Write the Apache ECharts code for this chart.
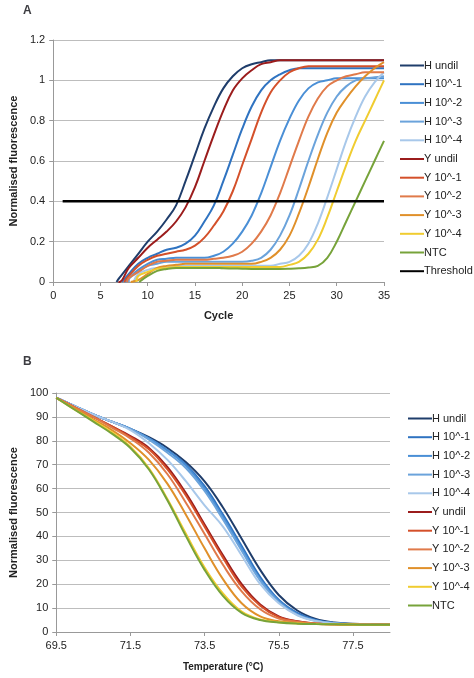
<!DOCTYPE html>
<html><head><meta charset="utf-8">
<script src="https://cdn.jsdelivr.net/npm/echarts@6/dist/echarts.min.js"></script>
<style>html,body{margin:0;padding:0;background:#fff}#c{width:474px;height:678px}</style>
</head><body><div id="c"></div>
<script>
const names = ['H undil','H 10^-1','H 10^-2','H 10^-3','H 10^-4','Y undil','Y 10^-1','Y 10^-2','Y 10^-3','Y 10^-4','NTC'];
const colors = ['#1f3d6b','#2f73c1','#4a8fd6','#6ba3db','#a8c8ea','#9b1c1c','#d4502a','#e07a4a','#e0902a','#f0cc30','#77a33a'];
// Panel A: start cycle (value 0) then values at integer cycles from ceil(start) up to 35
const ampStart = [6.7,7.3,7.6,8.0,8.5,6.9,7.5,7.8,8.2,8.8,9.1];
const ampValues = [
 [0.02,0.08,0.14,0.2,0.25,0.31,0.38,0.5,0.63,0.76,0.87,0.96,1.02,1.06,1.08,1.09,1.1,1.1,1.1,1.1,1.1,1.1,1.1,1.1,1.1,1.1,1.1,1.1,1.1],
 [0.04,0.09,0.12,0.14,0.16,0.17,0.19,0.23,0.3,0.38,0.5,0.63,0.76,0.87,0.95,1.0,1.03,1.05,1.06,1.06,1.06,1.06,1.06,1.06,1.06,1.06,1.06,1.06],
 [0.02,0.06,0.09,0.11,0.115,0.12,0.12,0.12,0.12,0.13,0.15,0.19,0.25,0.33,0.44,0.57,0.7,0.81,0.9,0.96,0.99,1.0,1.01,1.01,1.01,1.01,1.01,1.01],
 [0.01,0.05,0.08,0.09,0.1,0.1,0.1,0.1,0.1,0.1,0.1,0.1,0.1,0.105,0.12,0.16,0.23,0.33,0.46,0.6,0.73,0.84,0.92,0.97,1.0,1.01,1.015,1.02],
 [0.04,0.06,0.07,0.075,0.08,0.08,0.08,0.08,0.08,0.08,0.08,0.08,0.08,0.08,0.08,0.09,0.1,0.13,0.19,0.29,0.42,0.56,0.7,0.82,0.92,0.99,1.04],
 [0.0,0.07,0.12,0.17,0.21,0.25,0.3,0.37,0.47,0.6,0.73,0.85,0.95,1.01,1.05,1.08,1.09,1.1,1.1,1.1,1.1,1.1,1.1,1.1,1.1,1.1,1.1,1.1,1.1],
 [0.03,0.08,0.11,0.13,0.14,0.15,0.16,0.18,0.22,0.28,0.35,0.45,0.58,0.71,0.84,0.94,1.0,1.04,1.06,1.07,1.07,1.07,1.07,1.07,1.07,1.07,1.07,1.07],
 [0.02,0.05,0.08,0.1,0.105,0.11,0.11,0.11,0.11,0.115,0.12,0.13,0.15,0.19,0.25,0.33,0.44,0.57,0.7,0.82,0.91,0.97,1.0,1.02,1.03,1.04,1.04,1.04],
 [0.01,0.04,0.07,0.08,0.085,0.09,0.09,0.09,0.09,0.09,0.09,0.09,0.09,0.1,0.12,0.16,0.23,0.34,0.47,0.61,0.74,0.84,0.91,0.97,1.02,1.06,1.09],
 [0.03,0.05,0.065,0.07,0.075,0.075,0.075,0.075,0.075,0.075,0.075,0.075,0.075,0.075,0.075,0.075,0.085,0.1,0.14,0.21,0.32,0.45,0.58,0.7,0.8,0.9,1.0],
 [0.03,0.055,0.065,0.07,0.07,0.07,0.07,0.07,0.068,0.067,0.066,0.065,0.065,0.065,0.065,0.066,0.068,0.072,0.08,0.12,0.2,0.3,0.4,0.5,0.6,0.7]
];
const threshold = [[1,0.4],[35,0.4]];
// Panel B: temperatures and melt values
const temps = [69.5,70,70.5,71,71.5,72,72.5,73,73.5,74,74.5,75,75.5,76,76.5,77,77.5,78,78.5];
const meltValues = [
 [98,94.5,91,88,85,81.5,77,71,63,52,39,26,15.5,9,5.5,4,3.5,3.2,3],
 [98,94.5,91,88,85,81,76,70,61,49,36,23,13.5,8,5,3.8,3.3,3.1,3],
 [98,94.5,91,88,85,81,76,69.5,60,48,35,22,13,7.5,4.8,3.7,3.3,3.1,3],
 [98,94.5,91,88,85,80.5,75,68.5,59,47,34,21.5,12.5,7.2,4.7,3.7,3.3,3.1,3],
 [98,94.5,91,88,84.5,79,72,63,53,44,32,20,12,7,4.6,3.6,3.3,3.1,3],
 [98,94,90,86,82,77,69,58,45,32,20,11.5,6.5,4.5,3.6,3.2,3.1,3,3],
 [98,94,90,86,81.5,76.5,68,57,44,31,19,11,6.2,4.4,3.5,3.2,3.1,3,3],
 [98,94,90,85.5,81,75,66,54,41,28,17,9.5,5.6,4.2,3.5,3.2,3.1,3,3],
 [98,93.5,89,84.5,79,72,62,49,35,22,12,6.5,4.5,3.8,3.4,3.2,3.1,3,3],
 [98,93,88.5,83.5,77.5,68.5,55.5,41,27,16,8.5,5.2,4.1,3.6,3.3,3.2,3.1,3,3],
 [98,93,88,83,77,68,55,40,26,15,8,5,4,3.5,3.3,3.2,3.1,3,3]
];

const font = 'Liberation Sans, Arial, sans-serif';
const series = [];
names.forEach((n,i)=>{
  const d=[[ampStart[i],0]];
  const c0=Math.ceil(ampStart[i]);
  ampValues[i].forEach((v,k)=>d.push([c0+k,v]));
  series.push({name:n,type:'line',xAxisIndex:0,yAxisIndex:0,data:d,smooth:0.4,showSymbol:false,lineStyle:{width:2,color:colors[i]},itemStyle:{color:colors[i]},z:3+i});
});
series.push({name:'Threshold',type:'line',xAxisIndex:0,yAxisIndex:0,data:threshold,showSymbol:false,lineStyle:{width:2.5,color:'#000'},itemStyle:{color:'#000'},z:20});
names.forEach((n,i)=>{
  series.push({name:n,type:'line',xAxisIndex:1,yAxisIndex:1,data:temps.map((t,k)=>[t,meltValues[i][k]]),smooth:0.4,showSymbol:false,lineStyle:{width:2,color:colors[i]},itemStyle:{color:colors[i]},z:3+i});
});
const lbl = {color:'#222',fontSize:11,fontFamily:font};
const ax = {axisLine:{show:true,lineStyle:{color:'#999'}},axisTick:{show:true,length:4,lineStyle:{color:'#999'}},axisLabel:lbl,splitLine:{show:false}};
const ay = {axisLine:{show:true,lineStyle:{color:'#999'}},axisTick:{show:true,length:4,lineStyle:{color:'#999'}},axisLabel:lbl,splitLine:{show:true,lineStyle:{color:'#bdbdbd'}}};
const nameStyle = {fontWeight:'bold',fontSize:11,fontFamily:font,color:'#222'};
const legText = {fontSize:11,fontFamily:font,color:'#222',padding:[0,0,0,-5]};
const chart = echarts.init(document.getElementById('c'));
chart.setOption({
  animation:false,
  title:[{text:'A',left:18,top:0,textStyle:{fontSize:12,fontWeight:'bold',fontFamily:font}},
         {text:'B',left:18,top:351,textStyle:{fontSize:12,fontWeight:'bold',fontFamily:font}}],
  grid:[{left:53,right:90,top:40,height:242},{left:52,right:84,top:393,height:239}],
  xAxis:[Object.assign({},ax,{type:'value',gridIndex:0,min:0,max:35,interval:5,name:'Cycle',nameLocation:'middle',nameGap:28,nameTextStyle:nameStyle}),
         Object.assign({},ax,{type:'value',gridIndex:1,min:69.5,max:78.5,interval:2,name:'Temperature (°C)',nameLocation:'middle',nameGap:30,nameTextStyle:Object.assign({},nameStyle,{fontSize:10}),axisLabel:Object.assign({},lbl,{showMaxLabel:false,formatter:v=>v.toFixed(1)})})],
  yAxis:[Object.assign({},ay,{type:'value',gridIndex:0,min:0,max:1.2,interval:0.2,name:'Normalised fluorescence',nameLocation:'middle',nameGap:34,nameTextStyle:nameStyle,axisLabel:Object.assign({},lbl,{formatter:v=>String(+v.toFixed(1))})}),
         Object.assign({},ay,{type:'value',gridIndex:1,min:0,max:100,interval:10,name:'Normalised fluorescence',nameLocation:'middle',nameGap:32,nameTextStyle:nameStyle})],
  legend:[{orient:'vertical',left:395,top:55,itemGap:7.7,itemWidth:24,itemHeight:12,icon:'path://M0,5h24v2h-24z',textStyle:legText,data:names.concat(['Threshold'])},
          {orient:'vertical',left:403,top:408,itemGap:7.7,itemWidth:24,itemHeight:12,icon:'path://M0,5h24v2h-24z',textStyle:legText,data:names}],
  series:series
});
</script></body></html>
